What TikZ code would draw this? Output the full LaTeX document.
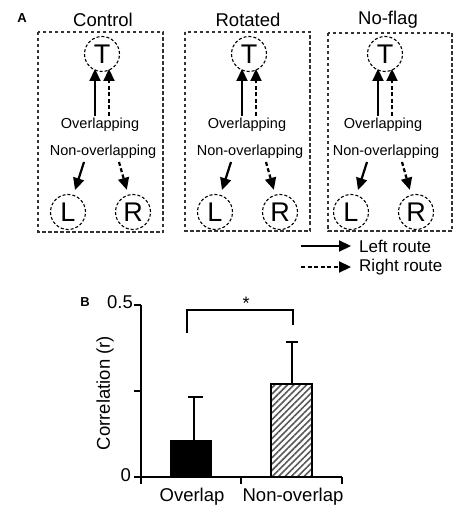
\documentclass[tikz,border=0pt]{standalone}
\usepackage{fontspec}
\setmainfont{Liberation Sans}
\usetikzlibrary{arrows.meta,patterns.meta}
\newcommand{\fs}[1]{\fontsize{#1}{#1}\selectfont}
\begin{document}
\begin{tikzpicture}[x=1pt,y=-1pt,
  panelbox/.style={draw=black!80,line width=1.1pt,dash pattern=on 3.5pt off 2.5pt},
  ring/.style={circle,draw=black,line width=1.1pt,dash pattern=on 3pt off 2pt,minimum size=35pt,inner sep=0pt,font=\fs{27}},
  title/.style={font=\fs{18.5},inner sep=0pt},
  small/.style={font=\fs{14.5},inner sep=0pt},
  solidarr/.style={line width=2.2pt,-{Triangle[length=12pt,width=11pt]}},
  dasharr/.style={line width=2.2pt,dash pattern=on 4pt off 2.5pt,-{Triangle[length=12pt,width=11pt]}},
  axis/.style={line width=2pt},
  lbl/.style={font=\fs{18.5},inner sep=0pt},
  panellbl/.style={font=\bfseries\fs{13},inner sep=0pt}]
\useasboundingbox (0,0) rectangle (474,526);
\fill[white] (0,0) rectangle (474,526);

% ---------- Panel A ----------
\node[panellbl] (A) at (22,18) {A};
\foreach \i/\cx/\bl/\br/\bt/\bb/\tx/\ttl in {1/102/38/163/32/232/103/Control, 2/249/185/310/32/231/248/Rotated, 3/385/328/452/33/231/388/No-flag}{
  \draw[panelbox] (\bl,\bt) rectangle (\br,\bb);
  \node[title] (title\i) at (\tx,20) {\ttl};
  \node[ring] (T\i) at (\cx,54) {T};
  \node[ring] (L\i) at (\cx-34,212) {L};
  \node[ring] (R\i) at (\cx+31,212) {R};
  \node[small] (ov\i) at (\cx-2,125) {Overlapping};
  \node[small] (nov\i) at (\cx+1,152) {Non-overlapping};
  \coordinate (ss\i) at (\cx-7,116);
  \coordinate (ds\i) at (\cx+7,116);
  \coordinate (se\i) at (\cx-7,69);
  \coordinate (de\i) at (\cx+7,69);
  \draw[solidarr] (ss\i) -- (se\i);
  \draw[dasharr] (ds\i) -- (de\i);
  \coordinate (ls\i) at (\cx-18,162);
  \coordinate (rs\i) at (\cx+17,162);
  \draw[solidarr,shorten >=5pt] (ls\i) -- (L\i);
  \draw[dasharr,shorten >=5pt] (rs\i) -- (R\i);
}

% legend
\node[font=\fs{17},inner sep=0pt,anchor=west] (lleft) at (359,246) {Left route};
\node[font=\fs{17},inner sep=0pt,anchor=west] (lright) at (359,267) {Right route};
\coordinate (lls) at (301,246);
\coordinate (lle) at (351,246);
\coordinate (lrs) at (301,267);
\coordinate (lre) at (351,267);
\draw[solidarr] (lls) -- (lle);
\draw[dasharr] (lrs) -- (lre);

% ---------- Panel B ----------
\node[panellbl] (B) at (85,302) {B};
\coordinate (ytop) at (141,305);
\coordinate (orig) at (141,477);
\coordinate (xend) at (342,477);
\draw[axis] (ytop) -- (orig) -- (xend);
\foreach \y in {305,391,477}{\draw[axis] (134,\y) -- (141,\y);}
\foreach \x in {141,241,342}{\draw[axis] (\x,477) -- (\x,484);}
\node[lbl,anchor=east] (y05) at (133,302) {0.5};
\node[lbl,anchor=east] (y0) at (131,475) {0};
\node[lbl,rotate=90] (ylab) at (105,393) {Correlation (r)};
\node[lbl] (xl1) at (192,497) {Overlap};
\node[lbl] (xl2) at (293,497) {Non-overlap};

% bars
\fill[black] (170,477) rectangle (212,440);
\fill[white] (271,477) rectangle (312,384);
\fill[pattern={Lines[angle=45,distance=4.5pt,line width=1.6pt]},pattern color=black!65] (271,477) rectangle (312,384);
\draw[line width=1.6pt] (271,477) rectangle (312,384);
% error bars
\draw[line width=1.6pt] (194,440) -- (194,397);
\draw[line width=1.6pt] (188,397) -- (203,397);
\draw[line width=1.6pt] (292,384) -- (292,342);
\draw[line width=1.6pt] (286,342) -- (298,342);
% significance bracket
\draw[line width=1.3pt] (187,333) -- (187,310) -- (293,310) -- (293,325);
\node[font=\fs{18},inner sep=0pt] (star) at (246,303) {*};
\end{tikzpicture}
\end{document}
